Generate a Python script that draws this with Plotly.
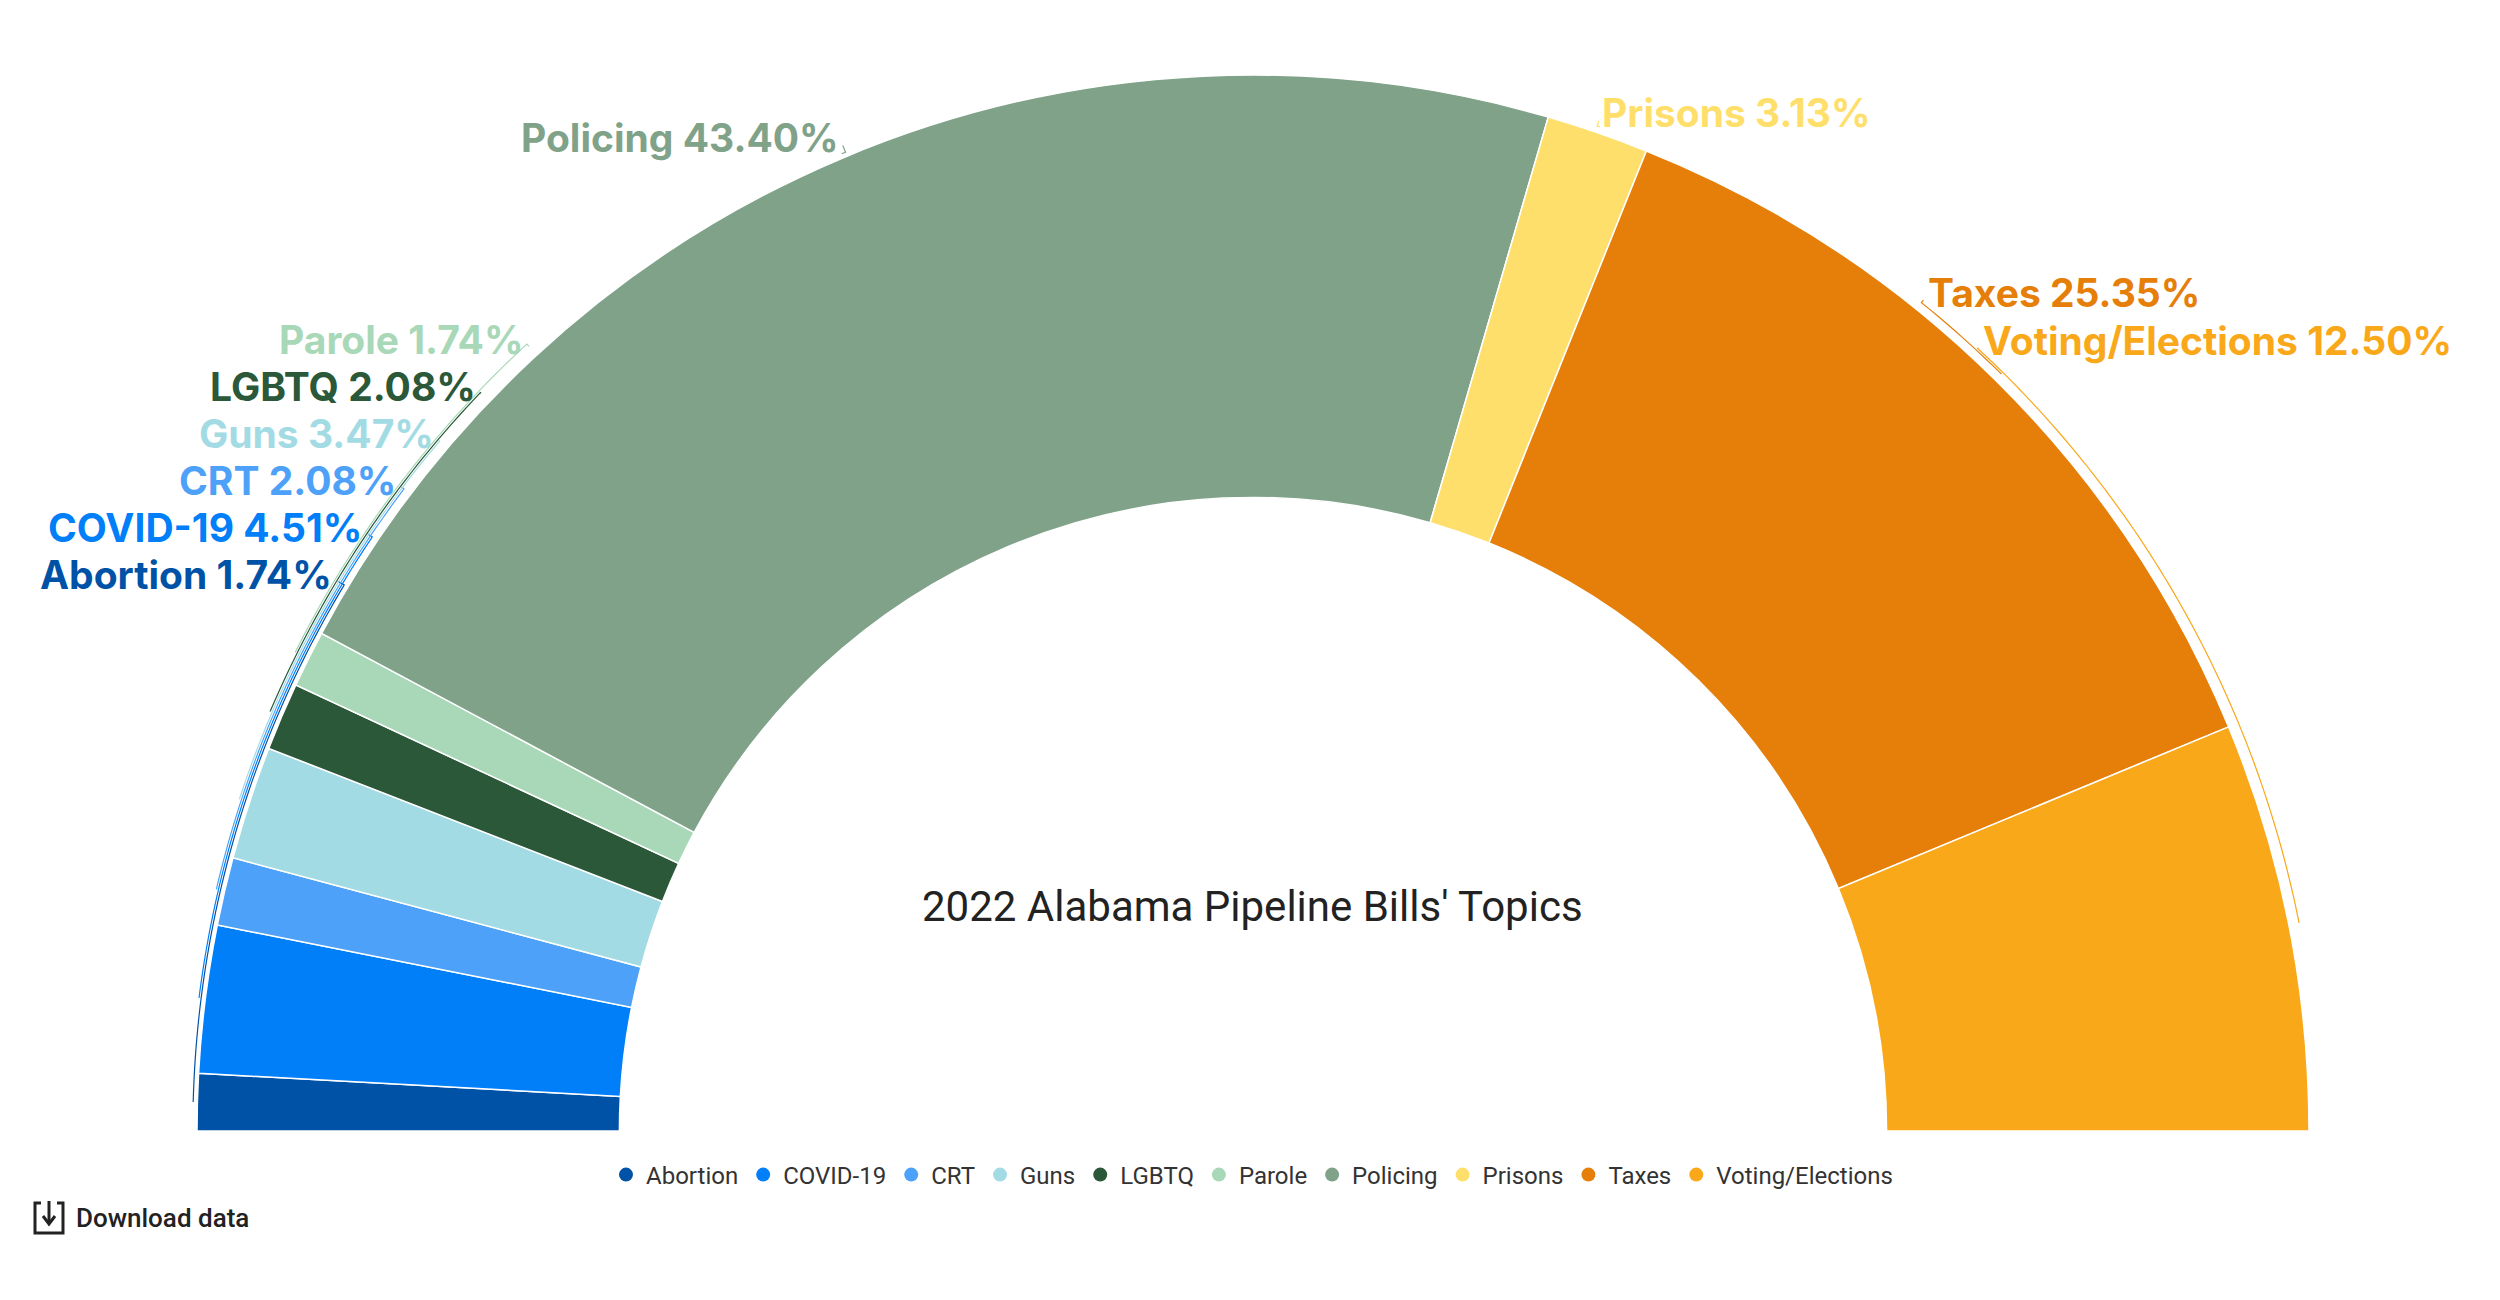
import numpy as np
import plotly.graph_objects as go

# data
TOPICS = ["Abortion", "COVID-19", "CRT", "Guns", "LGBTQ", "Parole",
          "Policing", "Prisons", "Taxes", "Voting/Elections"]
SHARES = [1.74, 4.51, 2.08, 3.47, 2.08, 1.74, 43.40, 3.13, 25.35, 12.50]
COLORS = ["#0052A6", "#007FF8", "#4DA1F8", "#A3DBE4", "#2A5838",
          "#A8D8B7", "#7FA289", "#FFDF6B", "#E57F0A", "#F9A81A"]
TITLE = "2022 Alabama Pipeline Bills' Topics"

# where each outside label sits on the rim (degrees, 0 = left end, 180 = right end)
LABEL_THETA = [31.0, 34.0, 37.1, 40.3, 43.7, 47.3, 67.4, 108.9, 128.9, 132.8]

W, H = 2500, 1300
OFF = 8                           # page margin around the plot div
CX, CY, R_PX = 1253, 1131, 1056   # centre and outer radius of the half donut, screen px
RMAX = 1.03
HOLE = 0.6
LABEL_R = 1.015


def px(x):
    return (x - OFF) / W


def py(y):
    return (H - (y - OFF)) / H


dom_r = R_PX * RMAX
dom_x = [px(CX - dom_r), px(CX + dom_r)]
dom_y = [py(CY), py(CY - dom_r)]

shares = np.array(SHARES)
starts = np.cumsum(shares) - shares
mids = (starts + shares / 2) * 180 / shares.sum()
widths = shares * 180 / shares.sum()

fig = go.Figure()

fig.add_trace(go.Barpolar(
    theta=mids,
    width=widths,
    r=[1 - HOLE] * len(TOPICS),
    base=HOLE,
    marker=dict(color=COLORS, line=dict(color="white", width=1.5)),
    hoverinfo="skip",
    showlegend=False,
))

# leader lines, riding just outside the rim from the slice to its label
annotations = []
for i, (topic, share, color, mid, lab) in enumerate(zip(TOPICS, SHARES, COLORS, mids, LABEL_THETA)):
    r_line = 1.004 + 0.0020 * (i % 6)
    steps = max(2, int(abs(lab - mid) * 2))
    th = list(np.linspace(mid, lab, steps)) + [lab]
    rr = [r_line] * steps + [LABEL_R - 0.004]
    fig.add_trace(go.Scatterpolar(
        theta=th, r=rr, mode="lines",
        line=dict(color=color, width=1.2),
        hoverinfo="skip", showlegend=False,
    ))
    phi = np.radians(180 - lab)
    left = lab < 90
    annotations.append(dict(
        x=LABEL_R * np.cos(phi), y=LABEL_R * np.sin(phi), xref="x", yref="y",
        text=f"<b>{topic} {share:.2f}%</b>",
        showarrow=False, yshift=4,
        xanchor="right" if left else "left", yanchor="middle",
        font=dict(family="Inter", size=39, color=color),
    ))

# legend entries with round markers
for topic, color in zip(TOPICS, COLORS):
    fig.add_trace(go.Scatter(
        x=[None], y=[None], mode="markers", name=topic,
        marker=dict(size=14, color=color, symbol="circle"),
    ))

annotations.append(dict(
    x=px(1252), xref="paper", y=py(906), yref="paper", text=TITLE, showarrow=False,
    xanchor="center", yanchor="middle",
    font=dict(family="Roboto", size=42, color="#222222"),
))
annotations.append(dict(
    x=px(74), y=py(1218), xref="paper", yref="paper", text="Download data",
    showarrow=False, xanchor="left", yanchor="middle",
    font=dict(family="Roboto", size=26, color="#222222", weight=500),
))

# small download icon
shapes = [
    dict(type="path", xref="paper", yref="paper",
         path=f"M {px(41)} {py(1203)} L {px(35)} {py(1203)} L {px(35)} {py(1233)} "
              f"L {px(63)} {py(1233)} L {px(63)} {py(1203)} L {px(57)} {py(1203)}",
         line=dict(color="#222222", width=3)),
    dict(type="line", xref="paper", yref="paper",
         x0=px(49), x1=px(49), y0=py(1201), y1=py(1223),
         line=dict(color="#222222", width=3)),
    dict(type="path", xref="paper", yref="paper",
         path=f"M {px(43)} {py(1216)} L {px(49)} {py(1224)} L {px(55)} {py(1216)}",
         line=dict(color="#222222", width=3)),
]

fig.update_layout(
    width=W, height=H,
    margin=dict(l=0, r=0, t=0, b=0),
    paper_bgcolor="white",
    plot_bgcolor="rgba(0,0,0,0)",
    font=dict(family="Roboto", color="#333333"),
    polar=dict(
        domain=dict(x=dom_x, y=dom_y),
        sector=[0, 180],
        hole=0,
        bargap=0,
        bgcolor="rgba(0,0,0,0)",
        radialaxis=dict(range=[0, RMAX], visible=False, showgrid=False),
        angularaxis=dict(rotation=180, direction="clockwise", visible=False,
                         showgrid=False, thetaunit="degrees"),
    ),
    xaxis=dict(domain=dom_x, range=[-RMAX, RMAX], visible=False, fixedrange=True),
    yaxis=dict(domain=dom_y, range=[0, RMAX], visible=False, fixedrange=True),
    showlegend=True,
    legend=dict(
        orientation="h", x=px(1252), xanchor="center", y=py(1175), yanchor="middle",
        font=dict(family="Roboto", size=24, color="#333333"),
        itemwidth=30, tracegroupgap=0,
    ),
    annotations=annotations,
    shapes=shapes,
)

fig.write_html("out.html")
